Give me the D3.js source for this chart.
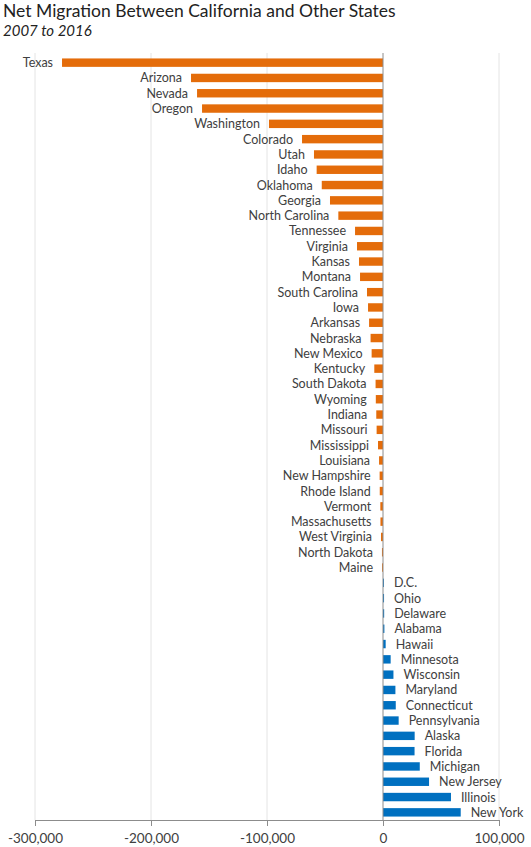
<!DOCTYPE html>
<html>
<head>
<meta charset="utf-8">
<script src="https://cdn.jsdelivr.net/npm/d3@7"></script>
<style>
  body { margin: 0; background: #fff; }
  svg { display: block; }
</style>
</head>
<body>
<svg id="chart"></svg>
<script>
//Chart data
var states = ["Texas", "Arizona", "Nevada", "Oregon", "Washington", "Colorado", "Utah", "Idaho",
    "Oklahoma", "Georgia", "North Carolina", "Tennessee", "Virginia", "Kansas", "Montana",
    "South Carolina", "Iowa", "Arkansas", "Nebraska", "New Mexico", "Kentucky", "South Dakota",
    "Wyoming", "Indiana", "Missouri", "Mississippi", "Louisiana", "New Hampshire", "Rhode Island",
    "Vermont", "Massachusetts", "West Virginia", "North Dakota", "Maine",
    "D.C.", "Ohio", "Delaware", "Alabama", "Hawaii", "Minnesota", "Wisconsin", "Maryland",
    "Connecticut", "Pennsylvania", "Alaska", "Florida", "Michigan", "New Jersey", "Illinois", "New York"];
var netMigration = [-276700, -165500, -160300, -156000, -98300, -69800, -59500, -57200,
    -52800, -45700, -38500, -24100, -22400, -20700, -19800,
    -13800, -12900, -12000, -10700, -9800, -7500, -6400,
    -6200, -5800, -5500, -4300, -3400, -2900, -2800,
    -2300, -2200, -1700, -900, -800,
    800, 900, 1000, 1200, 2300, 6600, 9000, 10700,
    11000, 13500, 27300, 27200, 31700, 39700, 58600, 67000];
var xTicks = [-300000, -200000, -100000, 0, 100000];

var titleText = "Net Migration Between California and Other States";
var subtitleText = "2007 to 2016";

//Graph dimensions
var dimensions = {
    width: 531,
    height: 847,
    margin: { top: 55, right: 32, bottom: 27, left: 35 }
};

var data = states.map(function(s, i){ return { state: s, value: netMigration[i] }; });

//Scales
var xScale = d3.scaleLinear()
    .domain([-300000, 100000])
    .range([dimensions.margin.left, dimensions.width - dimensions.margin.right]);

var yScale = d3.scaleBand()
    .domain(states)
    .range([dimensions.margin.top, dimensions.height - dimensions.margin.bottom])
    .paddingInner(0.45)
    .paddingOuter(0.225);

var svg = d3.select("#chart")
    .attr("width", dimensions.width)
    .attr("height", dimensions.height)
    .style("font-family", "Lato, 'Open Sans', sans-serif");

//Title
svg.append("text")
    .attr("x", 3)
    .attr("y", 17)
    .style("font-size", "17.5px")
    .style("fill", "#222")
    .text(titleText);

svg.append("text")
    .attr("x", 3)
    .attr("y", 36)
    .style("font-size", "15px")
    .style("font-style", "italic")
    .style("fill", "#222")
    .text(subtitleText);

var axisY = dimensions.height - dimensions.margin.bottom;

//Gridlines
svg.append("g")
    .selectAll("line")
    .data(xTicks.filter(function(t){ return t !== 0; }))
    .join("line")
    .attr("x1", function(d){ return xScale(d); })
    .attr("x2", function(d){ return xScale(d); })
    .attr("y1", dimensions.margin.top - 2)
    .attr("y2", axisY)
    .style("stroke", "#e4e4e4")
    .style("stroke-width", 1);

//Bars
svg.append("g")
    .selectAll("rect")
    .data(data)
    .join("rect")
    .attr("x", function(d){ return xScale(Math.min(0, d.value)); })
    .attr("y", function(d){ return yScale(d.state); })
    .attr("width", function(d){ return Math.abs(xScale(d.value) - xScale(0)); })
    .attr("height", yScale.bandwidth())
    .style("fill", function(d){ return d.value < 0 ? "#e46c0a" : "#0070c0"; });

//Zero line
svg.append("line")
    .attr("x1", xScale(0))
    .attr("x2", xScale(0))
    .attr("y1", dimensions.margin.top - 2)
    .attr("y2", axisY)
    .style("stroke", "#8c8c8c")
    .style("stroke-width", 1);

//State labels
svg.append("g")
    .selectAll("text")
    .data(data)
    .join("text")
    .attr("x", function(d){ return d.value < 0 ? xScale(d.value) - 9 : xScale(d.value) + 10; })
    .attr("y", function(d){ return yScale(d.state) + yScale.bandwidth() / 2; })
    .attr("dy", "0.36em")
    .attr("text-anchor", function(d){ return d.value < 0 ? "end" : "start"; })
    .style("font-size", "12.5px")
    .style("fill", "#404040")
    .text(function(d){ return d.state; });

//X-axis
var xAxisGen = d3.axisBottom(xScale)
    .tickValues(xTicks)
    .tickSize(6)
    .tickPadding(7)
    .tickFormat(d3.format(","));
var xAxis = svg.append("g")
    .attr("transform", "translate(0," + axisY + ")")
    .call(xAxisGen);
xAxis.select(".domain").attr("d", "M" + xScale(-300000) + ",0.5H" + xScale(100000)).style("stroke", "#8c8c8c");
xAxis.selectAll(".tick line").style("stroke", "#8c8c8c");
xAxis.selectAll("text")
    .style("font-family", "Lato, 'Open Sans', sans-serif")
    .style("font-size", "13.5px")
    .style("fill", "#404040")
    .text(function(d){ return d3.format(",")(d).replace("\u2212", "-"); });
</script>
</body>
</html>
